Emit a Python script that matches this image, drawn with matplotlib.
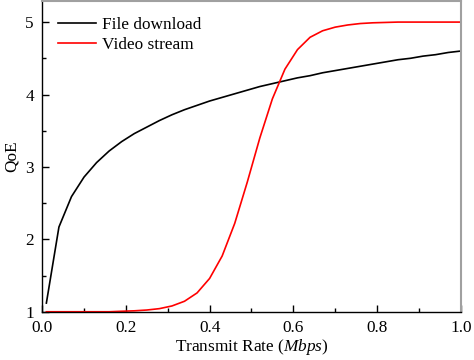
import matplotlib
matplotlib.use("Agg")
import matplotlib.pyplot as plt
from matplotlib.ticker import FormatStrFormatter, MultipleLocator

# transmit rate samples (Mbps)
rate = [0.01, 0.04, 0.07, 0.10, 0.13, 0.16, 0.19, 0.22, 0.25, 0.28, 0.31, 0.34,
        0.37, 0.40, 0.43, 0.46, 0.49, 0.52, 0.55, 0.58, 0.61, 0.64, 0.67, 0.70,
        0.73, 0.76, 0.79, 0.82, 0.85, 0.88, 0.91, 0.94, 0.97, 1.00]

file_download = [1.12, 2.17, 2.59, 2.86, 3.06, 3.22, 3.35, 3.46, 3.55, 3.64, 3.72, 3.79,
                 3.85, 3.91, 3.96, 4.01, 4.06, 4.11, 4.15, 4.19, 4.23, 4.26, 4.30, 4.33,
                 4.36, 4.39, 4.42, 4.45, 4.48, 4.50, 4.53, 4.55, 4.58, 4.60]

video_stream = [1.00, 1.00, 1.00, 1.00, 1.00, 1.00, 1.007, 1.013, 1.024, 1.043, 1.08, 1.145,
                1.26, 1.46, 1.77, 2.22, 2.79, 3.40, 3.94, 4.35, 4.62, 4.79, 4.88, 4.93,
                4.96, 4.98, 4.99, 4.995, 5.00, 5.00, 5.00, 5.00, 5.00, 5.00]

plt.rcParams["font.family"] = ["Liberation Serif", "DejaVu Serif"]
plt.rcParams["mathtext.fontset"] = "custom"
plt.rcParams["mathtext.rm"] = "Liberation Serif"
plt.rcParams["mathtext.it"] = "Liberation Serif:italic"
plt.rcParams["font.size"] = 12.4

fig = plt.figure(figsize=(4.74, 3.6), dpi=100)
ax = fig.add_axes([0.089, 0.134, 0.883, 0.863])

ax.plot(rate, file_download, color="black", lw=1.2, label="File download")
ax.plot(rate, video_stream, color="#ff0000", lw=1.2, label="Video stream")

ax.set_xlim(0, 1.0)
ax.set_ylim(1, 5.29)
ax.xaxis.set_major_locator(MultipleLocator(0.2))
ax.xaxis.set_minor_locator(MultipleLocator(0.1))
ax.yaxis.set_major_locator(MultipleLocator(1))
ax.yaxis.set_minor_locator(MultipleLocator(0.5))
ax.xaxis.set_major_formatter(FormatStrFormatter("%.1f"))
ax.tick_params(which="both", direction="in", top=False, right=False, width=1.0)
ax.tick_params(which="major", length=5)
ax.tick_params(which="minor", length=3)
ax.tick_params(axis="y", pad=6)
ax.tick_params(axis="x", pad=6)

for side in ("left", "bottom"):
    ax.spines[side].set_color("black")
    ax.spines[side].set_linewidth(1.0)
for side in ("top", "right"):
    ax.spines[side].set_color("#a0a0a0")
    ax.spines[side].set_linewidth(1.5)

ax.set_xlabel(r"Transmit Rate ($\mathit{Mbps}$)", labelpad=1)
ax.set_ylabel("QoE", labelpad=4)

ax.legend(loc="upper left", frameon=False, handlelength=2.2, handletextpad=0.35,
          borderaxespad=0.5, labelspacing=0.25)

fig.savefig("out.png", dpi=100)
